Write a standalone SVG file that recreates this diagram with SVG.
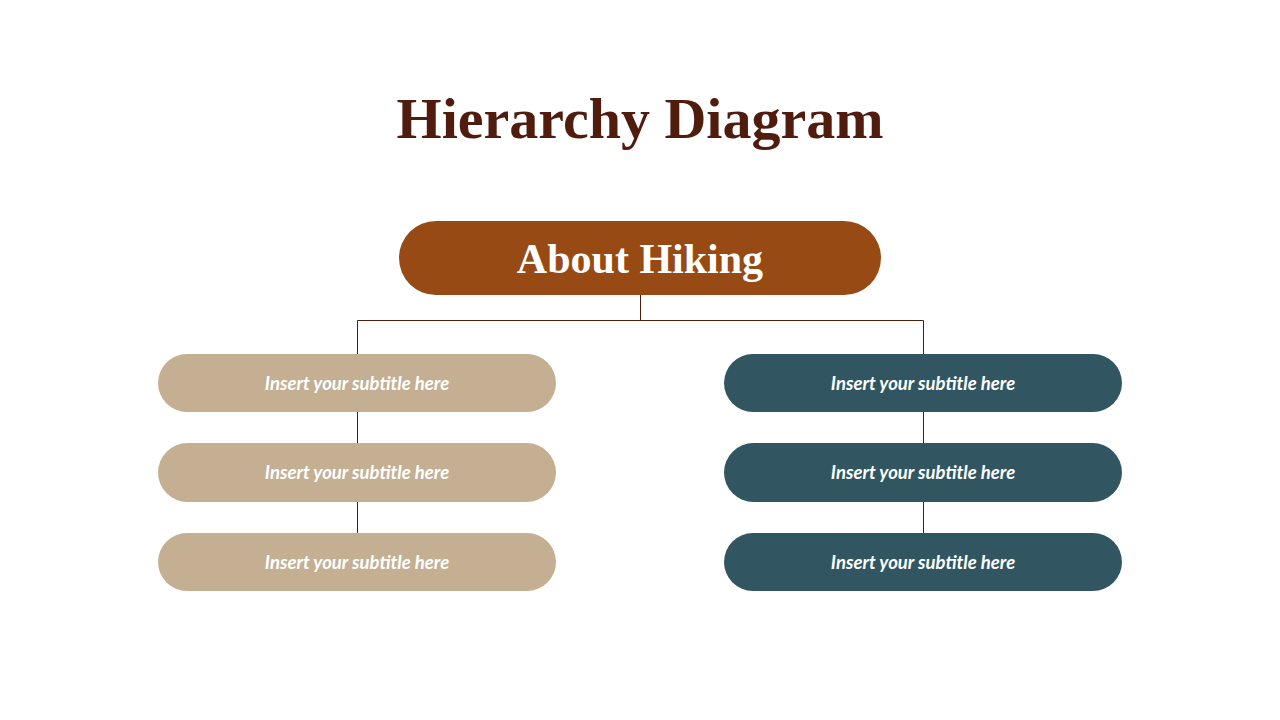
<svg xmlns="http://www.w3.org/2000/svg" width="1280" height="720" viewBox="0 0 1280 720">
<style>
.title{font-family:"Liberation Serif","DejaVu Serif",serif;font-weight:bold;fill:#4F1C0E;text-anchor:middle}
.main{font-family:"Liberation Serif","DejaVu Serif",serif;font-weight:bold;fill:#FFFFFF;text-anchor:middle}
.sub{font-family:Lato,"Liberation Sans",sans-serif;font-weight:bold;font-style:italic;font-size:18.5px;fill:#FFFFFF;text-anchor:middle}
.tan{fill:#C4AF93}
.teal{fill:#315661}
.conn{stroke:#4F1C0E;stroke-width:1;fill:none}
</style>
<rect width="1280" height="720" fill="#FFFFFF"/>
<text class="title" x="640" y="138" font-size="58">Hierarchy Diagram</text>
<g id="connectors">
<path class="conn" d="M640.5 295V320.5M357.5 320.5H923.5M357.5 320.5V354M923.5 320.5V354"/>
<path class="conn" d="M357.5 412V443M357.5 502V533M923.5 412V443M923.5 502V533"/>
</g>
<g id="root">
<rect x="399" y="221" width="482" height="74" rx="37" fill="#974A14"/>
<text class="main" x="640" y="273" font-size="42">About Hiking</text>
</g>
<g id="left1"><rect class="tan" x="158" y="354" width="398" height="58" rx="29"/><text class="sub" x="357" y="389.5">Insert your subtitle here</text></g>
<g id="left2"><rect class="tan" x="158" y="443" width="398" height="59" rx="29.5"/><text class="sub" x="357" y="478.5">Insert your subtitle here</text></g>
<g id="left3"><rect class="tan" x="158" y="533" width="398" height="58" rx="29"/><text class="sub" x="357" y="568.5">Insert your subtitle here</text></g>
<g id="right1"><rect class="teal" x="724" y="354" width="398" height="58" rx="29"/><text class="sub" x="923" y="389.5">Insert your subtitle here</text></g>
<g id="right2"><rect class="teal" x="724" y="443" width="398" height="59" rx="29.5"/><text class="sub" x="923" y="478.5">Insert your subtitle here</text></g>
<g id="right3"><rect class="teal" x="724" y="533" width="398" height="58" rx="29"/><text class="sub" x="923" y="568.5">Insert your subtitle here</text></g>
</svg>
